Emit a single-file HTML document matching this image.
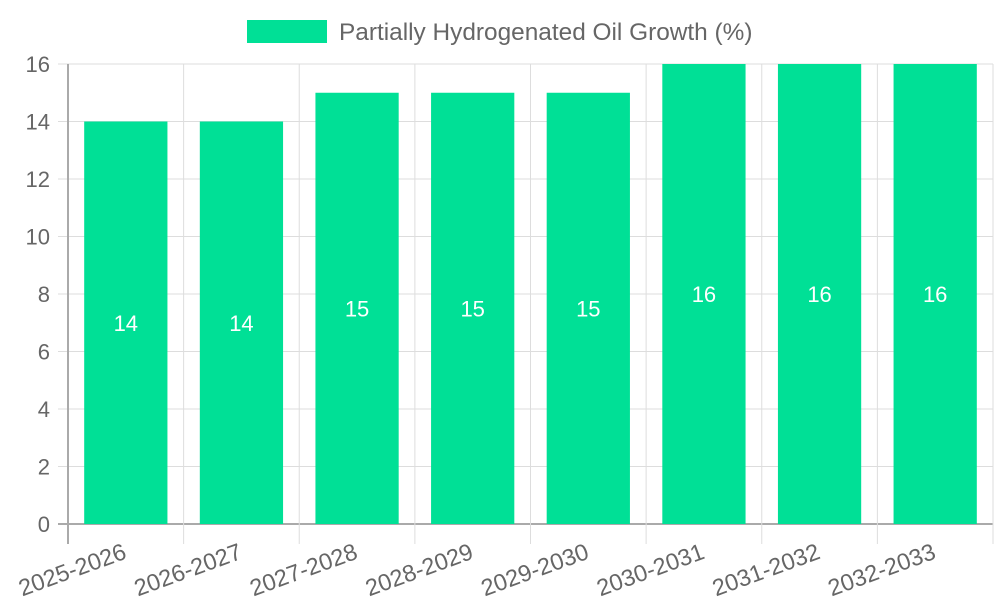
<!DOCTYPE html>
<html><head><meta charset="utf-8"><style>body{margin:0;background:#fff}svg{display:block;font-family:"Liberation Sans",sans-serif}</style></head>
<body>
<svg id="c" width="1000" height="600"></svg>
<script>
const categories=["2025-2026","2026-2027","2027-2028","2028-2029","2029-2030","2030-2031","2031-2032","2032-2033"];
const values=[14,14,15,15,15,16,16,16];
const yTicks=[0,2,4,6,8,10,12,14,16];
const seriesName="Partially Hydrogenated Oil Growth (%)";
const NS="http://www.w3.org/2000/svg";
const svg=document.getElementById('c');
const L=68,R=993,T=64,B=524,yMax=16;
const bw=(R-L)/categories.length;
const y=v=>B-(v/yMax)*(B-T);
const x=i=>L+bw*i;
function mk(t,a,p){const e=document.createElementNS(NS,t);for(const k in a)e.setAttribute(k,a[k]);(p||svg).appendChild(e);return e;}
const grid=mk('g',{});


yTicks.forEach(v=>{
 mk('line',{x1:L-10,x2:R,y1:y(v),y2:y(v),stroke:v===0?'#aaa':'#ddd','stroke-width':v===0?2:1},grid);
 const t=mk('text',{x:L-18,y:y(v)+8,'text-anchor':'end','font-size':22,fill:'#666'});
 t.textContent=v;
 
 
});
for(let i=0;i<=categories.length;i++){
 mk('line',{x1:x(i),x2:x(i),y1:T,y2:B+20,stroke:i===0?'#aaa':'#ddd','stroke-width':i===0?2:1},grid);
}
categories.forEach((c,i)=>{
 const cx=x(i)+bw/2,w=bw*0.72;
 const r=mk('rect',{x:cx-w/2,y:y(values[i]),width:w,height:B-y(values[i]),fill:'#00e096'});
 
 
 const vl=mk('text',{x:cx,y:(y(values[i])+B)/2+8,'text-anchor':'middle','font-size':22,fill:'#fff'});
 vl.textContent=values[i];
 
 
 const tl=mk('text',{x:0,y:0,'text-anchor':'end','font-size':23.5,fill:'#666',transform:`translate(${cx+2},${B+34}) rotate(-20)`});
 tl.textContent=c;
 
 
});
const lg=mk('g',{});


mk('rect',{x:247,y:20,width:80,height:23,fill:'#00e096'},lg);
const lt=mk('text',{x:339,y:40,'font-size':24.4,fill:'#666'},lg);
lt.textContent=seriesName;
</script>
</body></html>
